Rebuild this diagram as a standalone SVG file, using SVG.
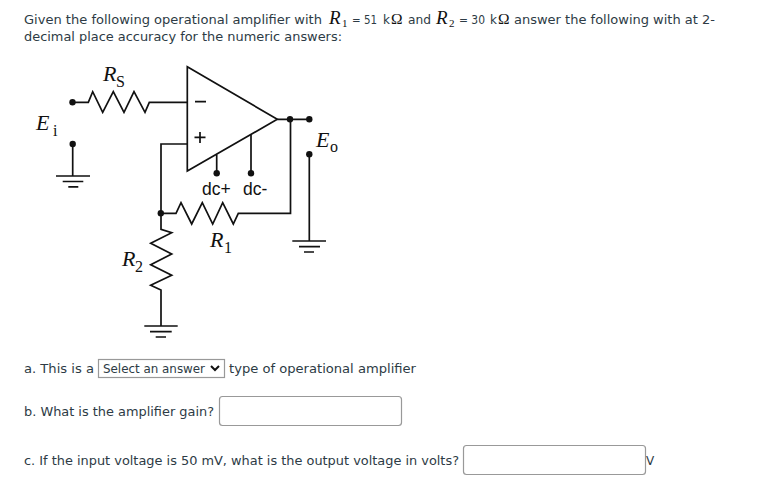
<svg xmlns="http://www.w3.org/2000/svg" width="759" height="497" viewBox="0 0 759 497">
<style>
.t{font-family:"DejaVu Sans",Verdana,sans-serif;font-size:12px;fill:#2d3b45}
.m{font-family:"Liberation Serif","Times New Roman",serif;font-style:italic;fill:#111}
.s{font-family:"Liberation Serif","Times New Roman",serif;fill:#111}
.w{fill:none;stroke:#111;stroke-width:1.7;stroke-linejoin:miter}
.f{font-family:"Liberation Sans",Arial,sans-serif;font-size:17.5px;fill:#111}
.box{fill:#fff;stroke:#999;stroke-width:1.2}
</style>
<rect width="759" height="497" fill="#fff"/>
<g id="question-text">
<text class="t" x="24" y="24" textLength="298" lengthAdjust="spacingAndGlyphs">Given the following operational amplifier with</text>
<text class="m" x="329" y="24" font-size="19">R</text><text class="s" x="342" y="27" font-size="11">1</text>
<text class="t" x="352" y="24" textLength="25" lengthAdjust="spacingAndGlyphs">= 51</text>
<text class="t" x="383" y="24">k</text><text class="s" x="391" y="24" font-size="15.5">Ω</text>
<text class="t" x="408" y="24" textLength="23" lengthAdjust="spacingAndGlyphs">and</text>
<text class="m" x="436" y="24" font-size="19">R</text><text class="s" x="449" y="27" font-size="11">2</text>
<text class="t" x="459" y="24" textLength="26" lengthAdjust="spacingAndGlyphs">= 30</text>
<text class="t" x="490" y="24">k</text><text class="s" x="498" y="24" font-size="15.5">Ω</text>
<text class="t" x="514" y="24" textLength="201" lengthAdjust="spacingAndGlyphs">answer the following with at 2-</text>
<text class="t" x="24" y="41" textLength="318" lengthAdjust="spacingAndGlyphs">decimal place accuracy for the numeric answers:</text>
</g>
<g id="connectors">
<path class="w" d="M72.5 102.3H88.3L92.7 91.7L102.7 112.3L113.3 91.7L124 112.3L134 91.7L145 112.3L149.3 102.3H187"/>
<path class="w" d="M187 144H161V229.3L171.7 232.7L150.7 243.3L171.7 254L150.7 264.7L171.7 275.3L150.7 285.3L161 290V326"/>
<path class="w" d="M161 213.3H176L181 202.7L191.7 224L202.3 202.7L212.7 224L222.7 202.7L233.3 224L238.3 213.3H290.5V119.3"/>
<path class="w" d="M277.3 119.3H309.3"/>
<path class="w" d="M309.3 154.3V241"/>
<path class="w" d="M72.7 144V176"/>
<path class="w" d="M216.7 154.5V173.3"/>
<path class="w" d="M251 135V173.3"/>
</g>
<g id="opamp">
<path class="w" d="M187.3 66.7L277.3 119.3L187.3 171Z" fill="#fff"/>
<path class="w" d="M195 101.7H206M200 132V143M194.5 137.3H205.5"/>
</g>
<g id="junctions" fill="#111">
<circle cx="72.5" cy="102.3" r="3.2"/><circle cx="72.7" cy="144" r="3.2"/>
<circle cx="290" cy="119.3" r="3.2"/><circle cx="309.3" cy="119.3" r="3.2"/><circle cx="309.3" cy="154.3" r="3.2"/>
<circle cx="216.7" cy="173.3" r="3.2"/><circle cx="251" cy="173.3" r="3.2"/><circle cx="160.8" cy="213.3" r="3.2"/>
</g>
<g id="ground-input"><path class="w" d="M56 176H90M62.7 181.5H83.3M68.3 186.8H78.3"/></g>
<g id="ground-output"><path class="w" d="M292.3 241H326M299 246.7H320M304 252H314"/></g>
<g id="ground-r2"><path class="w" d="M144.3 326H177.7M150 331.7H171.7M155.7 337H166"/></g>
<g id="labels">
<text class="m" x="103" y="81" font-size="22">R</text><text class="s" x="116" y="87" font-size="16">S</text>
<text class="m" x="36" y="130" font-size="22">E</text><text class="s" x="53" y="136" font-size="16">i</text>
<text class="m" x="316" y="147" font-size="22">E</text><text class="s" x="330" y="152" font-size="16">o</text>
<text class="f" x="202" y="195">dc+</text><text class="f" x="243" y="195">dc-</text>
<text class="m" x="210" y="247" font-size="22">R</text><text class="s" x="224" y="253" font-size="16">1</text>
<text class="m" x="122" y="266" font-size="22">R</text><text class="s" x="135" y="272" font-size="16">2</text>
</g>
<g id="question-a">
<text class="t" x="24" y="373" textLength="70" lengthAdjust="spacingAndGlyphs">a. This is a</text>
<rect class="box" x="98.5" y="359.5" width="126" height="18"/>
<text class="t" x="103" y="373" textLength="102" lengthAdjust="spacingAndGlyphs">Select an answer</text>
<path d="M211 366L215 370L219 366" fill="none" stroke="#111" stroke-width="2"/>
<text class="t" x="229" y="373" textLength="187" lengthAdjust="spacingAndGlyphs">type of operational amplifier</text>
</g>
<g id="question-b">
<text class="t" x="24" y="416" textLength="190" lengthAdjust="spacingAndGlyphs">b. What is the amplifier gain?</text>
<rect class="box" x="219.5" y="396.5" width="182" height="29" rx="3"/>
</g>
<g id="question-c">
<text class="t" x="24" y="465" textLength="435" lengthAdjust="spacingAndGlyphs">c. If the input voltage is 50 mV, what is the output voltage in volts?</text>
<rect class="box" x="463.5" y="445.5" width="182" height="29" rx="3"/>
<text class="t" x="646" y="465">V</text>
</g>
</svg>
